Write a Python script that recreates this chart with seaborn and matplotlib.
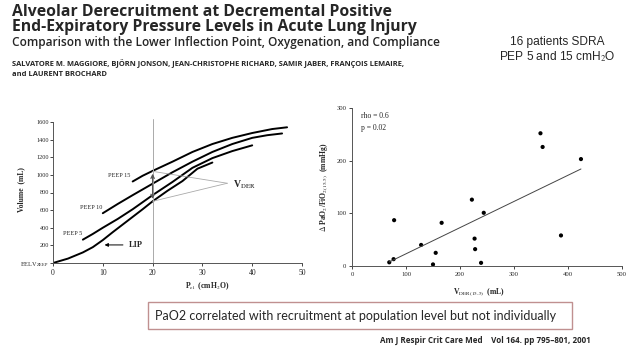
import numpy as np
import pandas as pd
import matplotlib
matplotlib.use("Agg")
import matplotlib.pyplot as plt
from matplotlib.patches import Rectangle
import seaborn as sns

# Left panel: pressure-volume curves (P_el in cmH2O, volume in mL)
zeep_p = [0, 3, 6, 8, 10, 12, 15, 18, 20, 23, 26, 29, 32]
zeep_v = [0, 50, 120, 180, 260, 350, 480, 610, 700, 820, 930, 1070, 1140]
peep5_p = [6, 8, 10, 13, 16, 20, 24, 28, 32, 36, 40]
peep5_v = [265, 330, 400, 500, 610, 770, 920, 1080, 1190, 1270, 1335]
peep10_p = [10, 13, 16, 20, 24, 28, 32, 36, 40, 43, 46]
peep10_v = [565, 670, 770, 900, 1030, 1150, 1260, 1350, 1420, 1450, 1470]
peep15_p = [16, 18, 20, 24, 28, 32, 36, 40, 44, 47]
peep15_v = [925, 990, 1045, 1150, 1260, 1350, 1420, 1475, 1520, 1540]

# Right panel: derecruited volume vs change in PaO2/FiO2
vder = [69, 77, 78, 128, 155, 150, 166, 222, 227, 228, 239, 244, 349, 353, 424, 387]
dpf = [7, 13, 87, 40, 25, 3, 82, 126, 52, 32, 6, 101, 252, 226, 203, 58]

sns.set_theme(style="white")
plt.rcParams["font.family"] = ["Liberation Serif", "DejaVu Serif"]
plt.rcParams["mathtext.fontset"] = "stix"

curves = pd.concat([
    pd.DataFrame({"p": zeep_p, "v": zeep_v, "curve": "ZEEP"}),
    pd.DataFrame({"p": peep5_p, "v": peep5_v, "curve": "PEEP 5"}),
    pd.DataFrame({"p": peep10_p, "v": peep10_v, "curve": "PEEP 10"}),
    pd.DataFrame({"p": peep15_p, "v": peep15_v, "curve": "PEEP 15"}),
])
scatter = pd.DataFrame({"vder": vder, "dpf": dpf})

fig = plt.figure(figsize=(6.4, 3.6), dpi=100)
fig.patch.set_facecolor("white")

# ---- left panel ----
ax1 = fig.add_axes([53 / 640, 97 / 360, 249 / 640, 141 / 360])
sns.lineplot(data=curves, x="p", y="v", units="curve", estimator=None,
             sort=False, color="black", lw=1.4, ax=ax1)
ax1.set_xlim(0, 50)
ax1.set_ylim(0, 1600)
ax1.set_xticks([0, 10, 20, 30, 40, 50])
ax1.set_yticks(range(0, 1601, 200))
ax1.set_yticklabels([r"EELV$_{\rm ZEEP}$"] + [str(v) for v in range(200, 1601, 200)])
ax1.tick_params(axis="x", labelsize=5.5, length=2, width=0.6, pad=2, direction="out")
ax1.tick_params(axis="y", labelsize=4.5, length=2, width=0.6, pad=1, direction="out")
ax1.tick_params(bottom=True, left=True)
for s in ["top", "right"]:
    ax1.spines[s].set_visible(False)
for s in ["left", "bottom"]:
    ax1.spines[s].set_color("#555555")
    ax1.spines[s].set_linewidth(0.7)
ax1.set_xlabel(r"P$_{\rm el}$  (cmH$_2$O)", fontsize=5.5, fontweight="bold")
ax1.xaxis.set_label_coords(0.62, -0.12)
ax1.set_ylabel("Volume  (mL)", fontsize=5.5, fontweight="bold")
ax1.yaxis.set_label_coords(-0.11, 0.52)

ax1.plot([20, 20], [0, 1630], color="#aaaaaa", lw=0.7, clip_on=False)
ax1.plot([20, 35], [1040, 905], color="#aaaaaa", lw=0.6)
ax1.plot([20, 35], [700, 905], color="#aaaaaa", lw=0.6)
ax1.annotate("", xy=(20, 1045), xytext=(20, 695),
             arrowprops=dict(arrowstyle="<->", color="#555555", lw=0.9,
                             mutation_scale=6))
ax1.annotate("", xy=(9.8, 205), xytext=(14.6, 205),
             arrowprops=dict(arrowstyle="-|>", color="black", lw=0.7,
                             mutation_scale=5))
ax1.text(15.2, 205, "LIP", fontsize=6, fontweight="bold", va="center")
ax1.text(36.2, 890, r"V$_{\rm DER}$", fontsize=7, fontweight="bold", va="center")
ax1.text(15.6, 990, "PEEP 15", fontsize=4.5, ha="right", va="center")
ax1.text(9.9, 632, "PEEP 10", fontsize=4.5, ha="right", va="center")
ax1.text(5.8, 331, "PEEP 5", fontsize=4.5, ha="right", va="center")

# ---- right panel ----
ax2 = fig.add_axes([352 / 640, 94 / 360, 270 / 640, 158 / 360])
sns.scatterplot(data=scatter, x="vder", y="dpf", color="black", s=9,
                edgecolor="none", ax=ax2)
sns.regplot(data=scatter, x="vder", y="dpf", scatter=False, ci=None,
            truncate=True, line_kws=dict(color="#444444", lw=0.7), ax=ax2)
ax2.set_xlim(0, 500)
ax2.set_ylim(0, 300)
ax2.set_xticks(range(0, 501, 100))
ax2.set_yticks([0, 100, 200, 300])
ax2.tick_params(labelsize=4.8, length=2, width=0.6, pad=2, direction="out")
ax2.tick_params(bottom=True, left=True)
for s in ["top", "right"]:
    ax2.spines[s].set_visible(False)
for s in ["left", "bottom"]:
    ax2.spines[s].set_color("#555555")
    ax2.spines[s].set_linewidth(0.7)
ax2.set_xlabel(r"V$_{\rm DER(15\text{-}5)}$  (mL)", fontsize=5.5, fontweight="bold")
ax2.xaxis.set_label_coords(0.47, -0.13)
ax2.set_ylabel(r"$\Delta$ PaO$_2$/FiO$_{2(15\text{-}5)}$  (mmHg)", fontsize=5.5,
               fontweight="bold")
ax2.yaxis.set_label_coords(-0.08, 0.5)
ax2.text(17, 285, "rho = 0.6", fontsize=5.5, va="center")
ax2.text(17, 262, "p = 0.02", fontsize=5.5, va="center")

# ---- slide text ----
sans = ["Open Sans", "DejaVu Sans"]
fig.text(12 / 640, 1 - 16 / 360, "Alveolar Derecruitment at Decremental Positive",
         fontsize=11.3, fontweight="bold", family=sans, va="baseline")
fig.text(12 / 640, 1 - 31 / 360, "End-Expiratory Pressure Levels in Acute Lung Injury",
         fontsize=11.3, fontweight="bold", family=sans, va="baseline")
fig.text(12 / 640, 1 - 46 / 360,
         "Comparison with the Lower Inflection Point, Oxygenation, and Compliance",
         fontsize=8.55, fontweight="semibold", family=sans, va="baseline")
fig.text(12 / 640, 1 - 66 / 360,
         "SALVATORE M. MAGGIORE, BJÖRN JONSON, JEAN-CHRISTOPHE RICHARD, SAMIR JABER, FRANÇOIS LEMAIRE,",
         fontsize=5.4, fontweight="bold", family=sans, va="baseline")
fig.text(12 / 640, 1 - 76 / 360, "and LAURENT BROCHARD",
         fontsize=5.4, fontweight="bold", family=sans, va="baseline")

arial = ["Liberation Sans", "DejaVu Sans"]
fig.text(557 / 640, 1 - 45 / 360, "16 patients SDRA", fontsize=8.6,
         family=arial, ha="center", va="baseline")
fig.text(557 / 640, 1 - 61 / 360, r"PEP 5 and 15 cmH$_2$O", fontsize=8.6,
         family=arial, ha="center", va="baseline")

fig.patches.append(Rectangle((148 / 640, 31 / 360), 424 / 640, 27 / 360,
                             transform=fig.transFigure, fill=False,
                             edgecolor="#c09090", lw=1.0))
fig.text(155 / 640, 1 - 316 / 360,
         "PaO2 correlated with recruitment at population level but not individually",
         fontsize=9.0, family=["Lato", "DejaVu Sans"], va="center")
fig.text(591 / 640, 1 - 343 / 360,
         "Am J Respir Crit Care Med    Vol 164. pp 795\u2013801, 2001",
         fontsize=5.8, fontweight="bold", family=sans, ha="right", va="baseline")

fig.savefig("out.png", dpi=100, facecolor="white")
